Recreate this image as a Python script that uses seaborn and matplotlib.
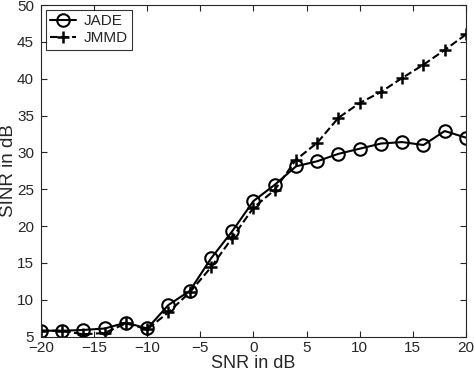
import matplotlib
matplotlib.use("Agg")
import matplotlib.pyplot as plt
import seaborn as sns
import pandas as pd

snr = [-20, -18, -16, -14, -12, -10, -8, -6, -4, -2, 0, 2, 4, 6, 8, 10, 12, 14, 16, 18, 20]
jade = [5.8, 5.8, 5.9, 6.1, 6.9, 6.1, 9.3, 11.2, 15.6, 19.3, 23.4, 25.6, 28.1, 28.8, 29.8, 30.5, 31.2, 31.4, 31.0, 32.9, 32.0]
jmmd = [5.8, 5.8, 5.3, 5.5, 6.8, 6.0, 8.3, 11.0, 14.4, 18.4, 22.5, 24.9, 29.0, 31.3, 34.7, 36.7, 38.2, 40.1, 41.9, 43.9, 46.0]
xticks = [-20, -15, -10, -5, 0, 5, 10, 15, 20]
yticks = [5, 10, 15, 20, 25, 30, 35, 40, 45, 50]

sns.set_style("ticks")
plt.rcParams['font.family'] = ['Liberation Sans', 'DejaVu Sans']
plt.rcParams['xtick.direction'] = 'in'
plt.rcParams['ytick.direction'] = 'in'

df = pd.DataFrame({"snr": snr, "JADE": jade, "JMMD": jmmd})

fig = plt.figure(figsize=(4.74, 3.74), dpi=100)
ax = fig.add_axes([0.0865, 0.1, 0.8965, 0.8866])

sns.lineplot(data=df, x="snr", y="JADE", ax=ax, color="black", linestyle="-", marker="o",
             markersize=9, markerfacecolor="none", markeredgecolor="black", markeredgewidth=1.5,
             linewidth=1.5, label="JADE")
sns.lineplot(data=df, x="snr", y="JMMD", ax=ax, color="black", linestyle="--", marker="+",
             markersize=8, markeredgecolor="black", markeredgewidth=1.8, linewidth=1.5,
             label="JMMD", dashes=(3, 2.5))

ax.set_xlim(-20, 20)
ax.set_ylim(5, 50)
ax.set_xticks(xticks)
ax.set_yticks(yticks)
ax.set_xticklabels([str(t).replace('-', '\u2212') for t in xticks], fontsize=11)
ax.set_yticklabels([str(t) for t in yticks], fontsize=11)
ax.tick_params(top=True, right=True, length=4, width=0.8)
ax.tick_params(axis="x", pad=3.5)
ax.tick_params(axis="y", pad=5)
for s in ax.spines.values():
    s.set_linewidth(0.8)
    s.set_visible(True)
ax.set_xlabel("SNR in dB", fontsize=13, labelpad=0)
ax.set_ylabel("SINR in dB", fontsize=13.5, labelpad=0)

leg = ax.legend(loc="upper left", fontsize=11, handlelength=1.7, handletextpad=0.5,
                frameon=True, fancybox=False, edgecolor="black", borderpad=0.3,
                labelspacing=0.2, borderaxespad=0.3)
leg.get_frame().set_linewidth(0.8)

fig.savefig("out.png", dpi=100)
